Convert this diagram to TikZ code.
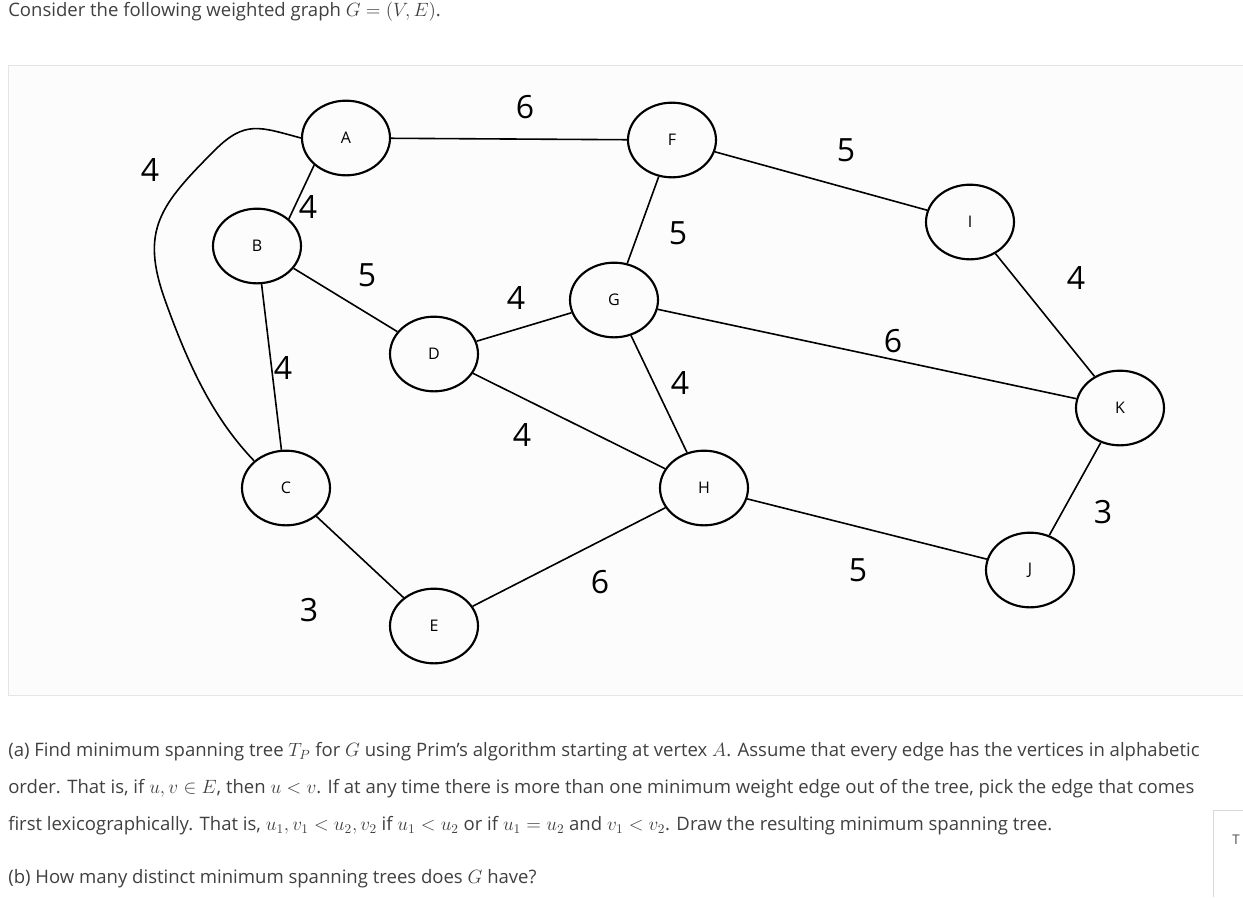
\documentclass[tikz,border=0pt]{standalone}
\usepackage{fontspec}
\setmainfont{Open Sans}
\usetikzlibrary{shapes.geometric}
\begin{document}
\begin{tikzpicture}[x=0.75pt,y=-0.75pt,
  v/.style={draw,line width=1.6pt,ellipse,minimum width=66pt,minimum height=56pt,inner sep=0pt,font=\fontsize{12}{14}\selectfont},
  e/.style={line width=1.2pt},
  w/.style={font=\fontsize{24}{28}\selectfont},
  txt/.style={anchor=west,font=\fontsize{13.9}{16}\selectfont,text=black!75,inner sep=0pt}]
\useasboundingbox (0,0) rectangle (1243,897);
\draw[black!10,fill=black!1] (8,65) rectangle (1243,695);
\node[txt] (t0) at (8,12) {Consider the following weighted graph $G=(V,E)$.};
\node[v] (A) at (346,138) {A};
\node[v] (F) at (672,140) {F};
\node[v] (I) at (970,222) {I};
\node[v] (B) at (257,246) {B};
\node[v] (G) at (614,300) {G};
\node[v] (D) at (434,354) {D};
\node[v] (K) at (1120,408) {K};
\node[v] (C) at (286,488) {C};
\node[v] (H) at (704,488) {H};
\node[v] (J) at (1030,570) {J};
\node[v] (E) at (434,626) {E};
\draw[e] (A) -- (F); \draw[e] (A.south west) -- (B.north east); \draw[e] (B) -- (D); \draw[e] (B) -- (C);
\draw[e] (D) -- (G); \draw[e] (D) -- (H); \draw[e] (F) -- (G); \draw[e] (G) -- (H);
\draw[e] (G) -- (K); \draw[e] (F) -- (I); \draw[e] (I) -- (K); \draw[e] (K) -- (J);
\draw[e] (H) -- (J); \draw[e] (C) -- (E); \draw[e] (E) -- (H);
\draw[e] (A.west) .. controls (260,127) and (245,120) .. (215,150)
  .. controls (160,205) and (140,230) .. (165,300) .. controls (190,370) and (215,420) .. (C.north west);
\node[w] (wAF) at (525,107) {6};
\node[w] (wAB) at (308,207) {4};
\node[w] (wAC) at (150,170) {4};
\node[w] (wBD) at (367,275) {5};
\node[w] (wBC) at (283,368) {4};
\node[w] (wDG) at (516,298) {4};
\node[w] (wDH) at (522,435) {4};
\node[w] (wFG) at (678,233) {5};
\node[w] (wGH) at (680,383) {4};
\node[w] (wGK) at (893,341) {6};
\node[w] (wFI) at (846,150) {5};
\node[w] (wIK) at (1076,278) {4};
\node[w] (wKJ) at (1103,512) {3};
\node[w] (wHJ) at (858,570) {5};
\node[w] (wCE) at (309,610) {3};
\node[w] (wEH) at (600,582) {6};
\node[txt] (t1) at (8,752) {(a) Find minimum spanning tree $T_P$ for $G$ using Prim's algorithm starting at vertex $A$. Assume that every edge has the vertices in alphabetic};
\node[txt] (t2) at (8,789) {order. That is, if $u,v\in E$, then $u<v$. If at any time there is more than one minimum weight edge out of the tree, pick the edge that comes};
\node[txt] (t3) at (8,826) {first lexicographically. That is, $u_1,v_1<u_2,v_2$ if $u_1<u_2$ or if $u_1=u_2$ and $v_1<v_2$. Draw the resulting minimum spanning tree.};
\node[txt] (t4) at (8,879) {(b) How many distinct minimum spanning trees does $G$ have?};
\draw[black!15] (1213,897) -- (1213,810) -- (1243,810);
\node[font=\fontsize{10}{12}\selectfont,text=black!70] (tT) at (1236,840) {T};
\end{tikzpicture}
\end{document}
